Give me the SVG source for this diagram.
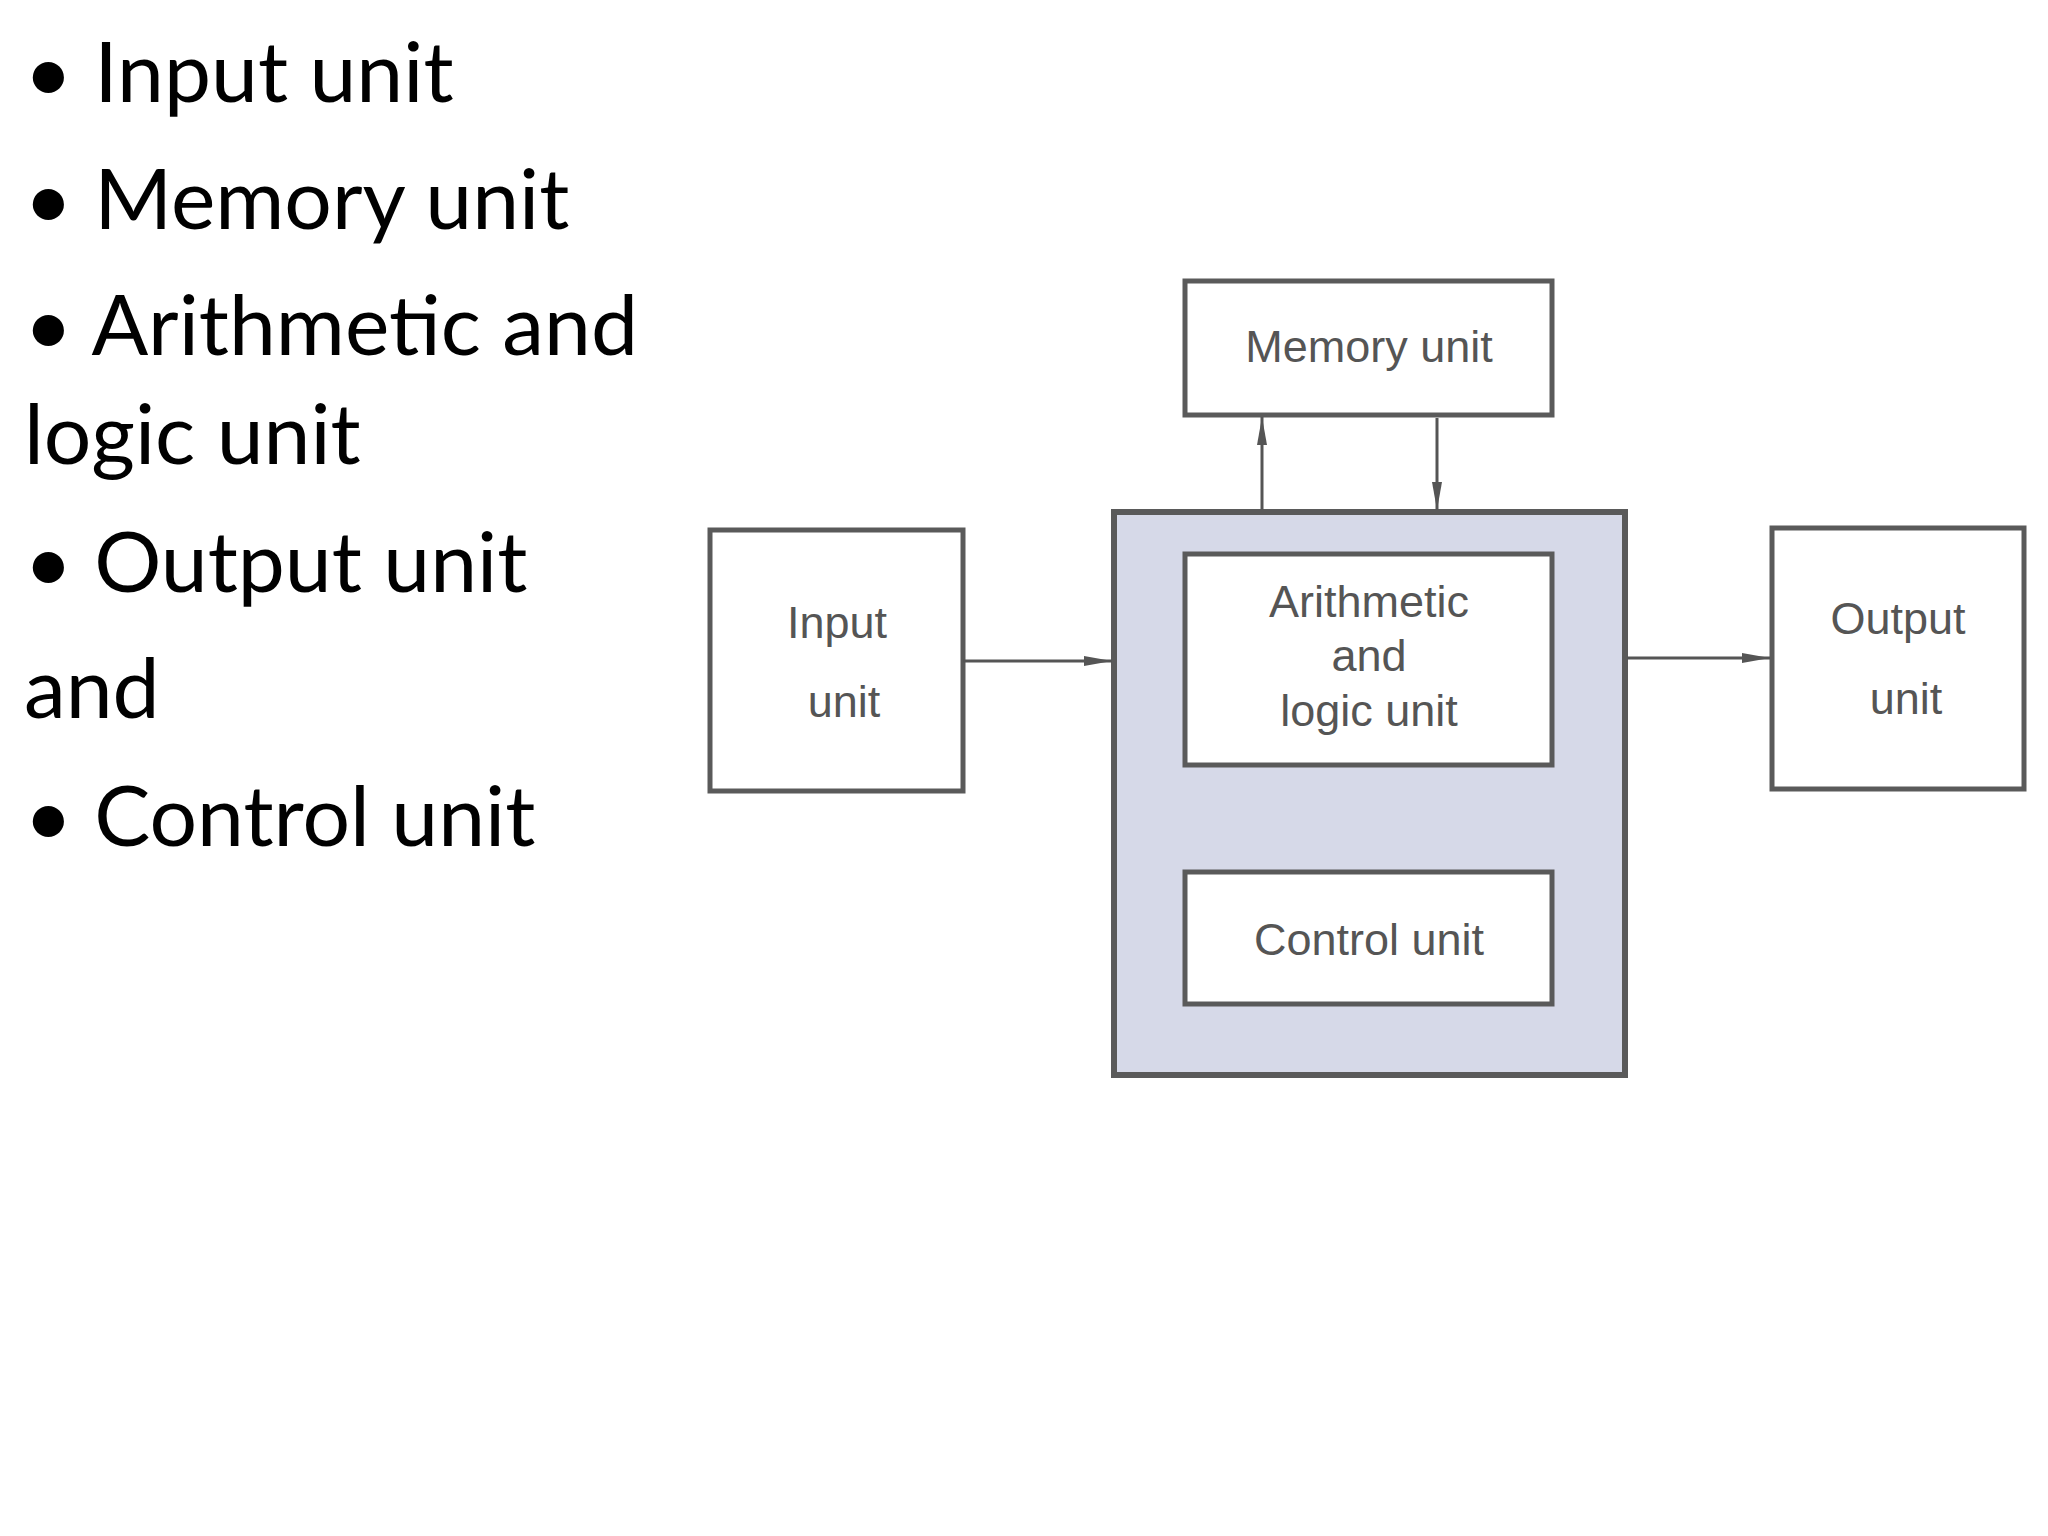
<svg xmlns="http://www.w3.org/2000/svg" width="2048" height="1536" viewBox="0 0 2048 1536">
<defs>
<style>
.b{font-family:Lato,"Liberation Sans",sans-serif;font-size:84px;fill:#000}
.box{fill:#fff;stroke:#5a5a5a;stroke-width:5}
.t{font-family:"Liberation Sans",Arial,sans-serif;font-size:45px;fill:#555;text-anchor:middle}
.c{stroke:#555;stroke-width:3;fill:none}
</style>
<marker id="ah" markerWidth="10" markerHeight="8" refX="10" refY="4" orient="auto" markerUnits="userSpaceOnUse" viewBox="0 0 10 8"><path d="M0,0L10,4L0,8z" fill="#555"/></marker>
<marker id="ah2" markerWidth="28" markerHeight="12" refX="28" refY="6" orient="auto" markerUnits="userSpaceOnUse" viewBox="0 0 28 12"><path d="M0,1L28,6L0,11z" fill="#555"/></marker>
</defs>
<rect width="2048" height="1536" fill="#fff"/>
<g id="bullets">
<text class="b" x="24" y="102">• Input unit</text>
<text class="b" x="24" y="229">• Memory unit</text>
<text class="b" x="24" y="355">• Arithmetic and</text>
<text class="b" x="24" y="464">logic unit</text>
<text class="b" x="24" y="592">• Output unit</text>
<text class="b" x="24" y="718"> and</text>
<text class="b" x="24" y="846">• Control unit</text>
</g>
<g id="cpu"><rect x="1114" y="512" width="511" height="563" fill="#d6d9e8" stroke="#5a5a5a" stroke-width="6"/></g>
<g id="memory"><rect class="box" x="1185" y="281" width="367" height="134"/><text class="t" x="1369" y="362">Memory unit</text></g>
<g id="alu"><rect class="box" x="1185" y="554" width="367" height="211"/>
<text class="t" x="1369" y="617">Arithmetic</text><text class="t" x="1369" y="671">and</text><text class="t" x="1369" y="726">logic unit</text></g>
<g id="control"><rect class="box" x="1185" y="872" width="367" height="132"/><text class="t" x="1369" y="955">Control unit</text></g>
<g id="input"><rect class="box" x="710" y="530" width="253" height="261"/>
<text class="t" x="837" y="638">Input</text><text class="t" x="844" y="717">unit</text></g>
<g id="output"><rect class="box" x="1772" y="528" width="252" height="261"/>
<text class="t" x="1898" y="634">Output</text><text class="t" x="1906" y="714">unit</text></g>
<g id="connectors">
<line class="c" x1="963" y1="661" x2="1112" y2="661" marker-end="url(#ah2)"/>
<line class="c" x1="1627" y1="658" x2="1770" y2="658" marker-end="url(#ah2)"/>
<line class="c" x1="1262" y1="510" x2="1262" y2="417" marker-end="url(#ah2)"/>
<line class="c" x1="1437" y1="418" x2="1437" y2="510" marker-end="url(#ah2)"/>
</g>
</svg>
